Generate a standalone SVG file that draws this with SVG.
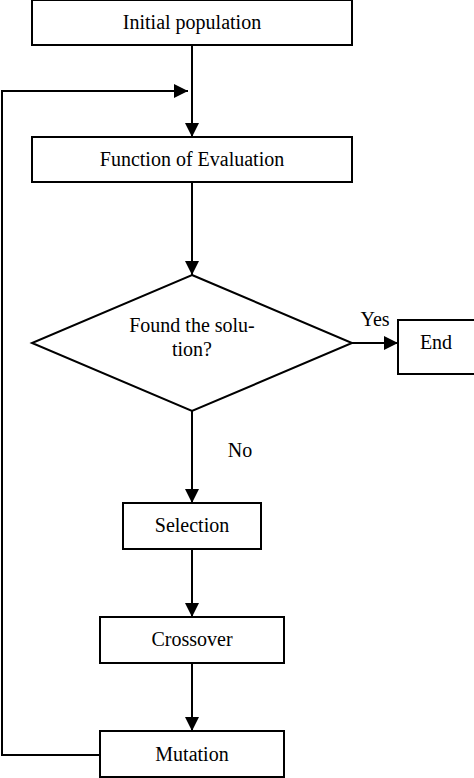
<svg xmlns="http://www.w3.org/2000/svg" width="474" height="778" viewBox="0 0 474 778">
<style>
.box{fill:#fff;stroke:#000;stroke-width:2}
text{font-family:"Liberation Serif","Times New Roman",serif;font-size:20px;fill:#000;text-anchor:middle}
.c{fill:none;stroke:#000;stroke-width:2}
</style>
<defs>
<marker id="ah" markerWidth="14" markerHeight="14" viewBox="0 0 14 14" refX="14" refY="7" orient="auto" markerUnits="userSpaceOnUse">
<path d="M0,0 L14,7 L0,14 Z" fill="#000"/>
</marker>
</defs>
<rect width="474" height="778" fill="#fff"/>
<g id="connectors">
<line class="c" x1="192" y1="46" x2="192" y2="137" marker-end="url(#ah)"/>
<polyline class="c" points="100,755 2,755 2,91 188,91" marker-end="url(#ah)"/>
<line class="c" x1="192" y1="182" x2="192" y2="275" marker-end="url(#ah)"/>
<line class="c" x1="352" y1="343" x2="398" y2="343" marker-end="url(#ah)"/>
<line class="c" x1="192" y1="411" x2="192" y2="503" marker-end="url(#ah)"/>
<line class="c" x1="192" y1="549" x2="192" y2="617" marker-end="url(#ah)"/>
<line class="c" x1="192" y1="663" x2="192" y2="731" marker-end="url(#ah)"/>
<text x="375" y="326">Yes</text>
<text x="240" y="457">No</text>
</g>
<g id="initial"><rect class="box" x="32" y="0" width="320" height="45"/><text x="192" y="29">Initial population</text></g>
<g id="evaluation"><rect class="box" x="32" y="137" width="320" height="45"/><text x="192" y="166">Function of Evaluation</text></g>
<g id="decision"><polygon class="box" points="192,275 352,343 192,411 32,343"/><text x="192" y="332">Found the solu-</text><text x="192" y="356">tion?</text></g>
<g id="end"><rect class="box" x="398" y="320" width="78" height="54"/><text x="436" y="349">End</text></g>
<g id="selection"><rect class="box" x="123" y="503" width="138" height="46"/><text x="192" y="532">Selection</text></g>
<g id="crossover"><rect class="box" x="100" y="617" width="184" height="46"/><text x="192" y="646">Crossover</text></g>
<g id="mutation"><rect class="box" x="100" y="731" width="184" height="46"/><text x="192" y="761">Mutation</text></g>
</svg>
